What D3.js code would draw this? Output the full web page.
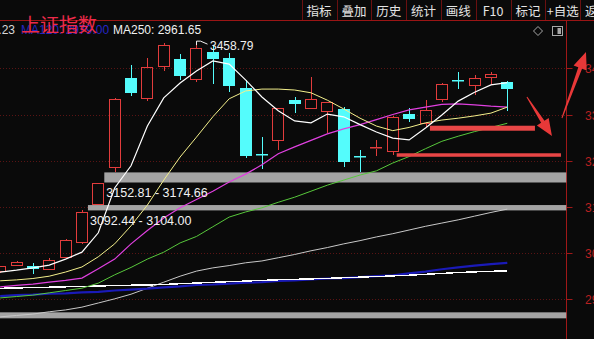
<!DOCTYPE html>
<html><head><meta charset="utf-8">
<script src="https://cdn.jsdelivr.net/npm/d3@7"></script>
<style>
html,body{margin:0;padding:0;background:#0a0a0a;overflow:hidden}
svg{display:block}
</style></head><body>
<svg id="c" width="594" height="339"></svg>
<script>
// ---------- data (index -1 is the partly visible first candle) ----------
const candleIndex = d3.range(-1, 31);
const opens  = [2961,2974,2973,2966,2992,3023,3106,3187,3380,3336,3405,3420,3377,3436,3422,3358,3214,3245,3331,3315,3308,3312,3211,3228,3221,3301,3281,3333,3375,3364,3381,3371];
const closes = [2971,2980,2965,2985,3028,3090,3151,3333,3347,3402,3450,3384,3443,3420,3362,3210,3212,3313,3322,3333,3326,3198,3207,3230,3295,3290,3309,3367,3373,3378,3388,3355];
const highs  = [2973,2982,2978,2990,3030,3092.44,3152.81,3336,3407,3422,3454,3432,3458.79,3448,3433,3375,3252,3314,3338,3382,3328,3317,3223,3245,3297,3313,3331,3368,3393,3386,3393,3373];
const lows   = [2958,2972,2955,2965,2990,3020,3104.00,3174.66,3340,3330,3395,3375,3371,3367,3349,3206,3183,3223,3303,3314,3259,3187,3176,3211,3212,3284,3272,3328,3355,3342,3364,3308];

const ma5   = [2959,2963,2968,2974,2987,3002,3044,3141,3189,3275,3336,3368,3394,3416,3409,3375,3338,3308,3286,3282,3301,3295,3278,3262,3249,3245,3271,3299,3329,3348,3364,3369];
const ma10  = [2940,2942,2945,2950,2959,2970,2992,3020,3059,3104,3158,3208,3251,3295,3334,3351,3355,3355,3353,3347,3331,3312,3292,3275,3265,3272,3282,3288,3292,3297,3303,3316];
const ma20  = [2927,2930,2933,2937,2941,2946,2966,2987,3020,3049,3076,3098,3116,3134,3154,3171,3191,3215,3230,3244,3258,3269,3278,3289,3300,3310,3316,3322,3323,3321,3318,3316];
const ma60  = [2903,2906,2909,2914,2919,2924,2935,2953,2969,2987,3002,3022,3036,3057,3078,3089,3098,3110,3121,3134,3147,3158,3169,3178,3195,3209,3226,3242,3253,3263,3272,3281];
const ma90  = [2862,2865,2868,2873,2877,2883,2892,2901,2911,2924,2937,2950,2961,2968,2973,2979,2983,2990,2997,3005,3012,3020,3027,3035,3042,3050,3058,3065,3072,3080,3088,3095.23];
const ma120 = [2907,2909,2910,2912,2913,2915,2916,2919,2921,2923,2926,2928,2931,2932,2934,2936,2937,2940,2941,2943,2945,2946,2948,2950,2952,2956,2960,2965,2969,2973,2976,2979.00];
const ma250 = [2923.8,2924.6,2925.3,2926.2,2927.0,2927.9,2928.8,2929.6,2930.5,2930.9,2932.2,2933.7,2935.2,2936.8,2938.1,2939.4,2940.9,2942.2,2943.3,2944.1,2945.4,2946.7,2948.0,2949.3,2950.6,2952.1,2954.1,2956.0,2958.0,2959.3,2960.6,2961.65];

const yTicks = [2900,3000,3100,3200,3300,3400];
const toolbarLabels = ["指标","叠加","历史","统计","画线","F10","标记","+自选","返回"];
const titleText = "上证指数";
// gap ranges: low, high, candle index after which the band starts
const gapLows  = [3152.81, 3092.44, 2858.8];
const gapHighs = [3174.66, 3104.00, 2871.8];
const gapFrom  = [5, 4, -3];
const gapLabeled = [true, true, false];
// hand-drawn annotations (index, price)
const markBarsFrom  = [25.27, 23.24];
const markBarsTo    = [31.69, 33.28];
const markBarsPrice = [3270.3, 3212.3];
const arrowsFrom = [[31.2, 3337.8], [33.34, 3292.4]];
const arrowsTo   = [[32.73, 3253.4], [34.81, 3435.2]];

// ---------- scales ----------
const W = 594, H = 339, axisX = 566.5, topY = 20.5;
const x = d3.scaleLinear().domain([-1, 30]).range([0.14, 507.3]);
const y = d3.scaleLinear().domain([2900, 3400]).range([299.3, 68.3]);
const step = x(1) - x(0);
const bodyW = 12;

const svg = d3.select("#c");
svg.append("rect").attr("width", W).attr("height", H).attr("fill", "#0a0a0a");

svg.append("defs").append("clipPath").attr("id", "plot")
  .append("rect").attr("x", 0).attr("y", topY + 0.5).attr("width", axisX).attr("height", H - topY);

// toolbar
const tb = d3.scaleBand().domain(toolbarLabels).range([301.7, 301.7 + 34.8 * toolbarLabels.length]);
const tg = svg.append("g");
toolbarLabels.forEach(l => {
  tg.append("line").attr("x1", Math.round(tb(l)) + 0.5).attr("x2", Math.round(tb(l)) + 0.5)
    .attr("y1", 0).attr("y2", topY).attr("stroke", "#6a1010").attr("stroke-width", 1);
  tg.append("text").attr("x", tb(l) + tb.bandwidth() / 2).attr("y", 15.5)
    .attr("text-anchor", "middle").attr("fill", "#e4e4e4")
    .attr("font-family", "'Noto Sans CJK SC', sans-serif").attr("font-size", 12.5).text(l);
});
svg.append("line").attr("x1", 0).attr("x2", W).attr("y1", topY).attr("y2", topY)
  .attr("stroke", "#9a1515").attr("stroke-width", 1);

// right axis
svg.append("line").attr("x1", axisX).attr("x2", axisX).attr("y1", topY).attr("y2", H)
  .attr("stroke", "#a01818").attr("stroke-width", 1);
const ag = svg.append("g");
yTicks.forEach(v => {
  const yy = Math.round(y(v)) + 0.5;
  ag.append("line").attr("x1", 0).attr("x2", axisX).attr("y1", yy).attr("y2", yy)
    .attr("stroke", "#5a1414").attr("stroke-dasharray", "1,2");
  ag.append("line").attr("x1", axisX).attr("x2", axisX + 6).attr("y1", yy).attr("y2", yy)
    .attr("stroke", "#a01818");
  ag.append("text").attr("x", 585).attr("y", yy + 4.5).attr("fill", "#b82020")
    .attr("font-family", "'Liberation Sans', Arial, sans-serif").attr("font-size", 12)
    .text(v.toFixed(2));
});

// icons
svg.append("path").attr("d", "M538,26.5L542.5,31L538,35.5L533.5,31Z")
  .attr("fill", "none").attr("stroke", "#a8a8a8");
svg.append("rect").attr("x", 552.5).attr("y", 26.5).attr("width", 10).attr("height", 9)
  .attr("fill", "none").attr("stroke", "#a8a8a8");
svg.append("rect").attr("x", 557.5).attr("y", 28).attr("width", 3.5).attr("height", 6).attr("fill", "#a8a8a8");

const plot = svg.append("g").attr("clip-path", "url(#plot)");

// gap bands
const bandG = plot.append("g");
gapLows.forEach((lo, k) => {
  const hi = gapHighs[k];
  const x0 = x(gapFrom[k]) + bodyW / 2;
  bandG.append("rect").attr("x", x0).attr("y", y(hi)).attr("width", axisX - x0)
    .attr("height", y(lo) - y(hi)).attr("fill", "#a4a4a4");
  if (gapLabeled[k]) {
    svg.append("text").attr("x", x0 + 2).attr("y", y(lo) + 14.5).attr("fill", "#f2f2f2")
      .attr("font-family", "'Liberation Sans', Arial, sans-serif").attr("font-size", 12.5)
      .text(`${lo.toFixed(2)} - ${hi.toFixed(2)}`);
  }
});

// candles
const red = "#e23c3c", cyan = "#54fcfc";
const cg = plot.append("g");
candleIndex.forEach((i, k) => {
  const o = opens[k], c = closes[k], h = highs[k], l = lows[k];
  const cx = Math.round(x(i));
  const left = cx - bodyW / 2;
  const yo = Math.round(y(o)), yc = Math.round(y(c)), yh = Math.round(y(h)), yl = Math.round(y(l));
  if (c >= o) {
    const hgt = Math.max(1, yo - yc);
    if (hgt <= 2) {
      cg.append("rect").attr("x", left).attr("y", yc).attr("width", bodyW).attr("height", 1.5).attr("fill", red);
    } else {
      cg.append("rect").attr("x", left + 0.5).attr("y", yc + 0.5).attr("width", bodyW - 1)
        .attr("height", hgt).attr("fill", "none").attr("stroke", red).attr("stroke-width", 1);
    }
    cg.append("line").attr("x1", cx + 0.5).attr("x2", cx + 0.5).attr("y1", yh).attr("y2", yc)
      .attr("stroke", red);
    cg.append("line").attr("x1", cx + 0.5).attr("x2", cx + 0.5).attr("y1", yo + 1).attr("y2", yl)
      .attr("stroke", red);
  } else {
    cg.append("line").attr("x1", cx + 0.5).attr("x2", cx + 0.5).attr("y1", yh).attr("y2", yl)
      .attr("stroke", cyan);
    cg.append("rect").attr("x", left).attr("y", yo).attr("width", bodyW)
      .attr("height", Math.max(1.5, yc - yo)).attr("fill", cyan);
  }
});

// moving averages
const lineGen = d3.line().x((d, k) => x(candleIndex[k])).y(d => y(d));
const maSeries = [
  {v: ma90,  color: "#c8c8c8", w: 1},
  {v: ma120, color: "#1a1ab8", w: 2.2},
  {v: ma250, color: "#ffffff", w: 1.4, crisp: true},
  {v: ma60,  color: "#58c83c", w: 1},
  {v: ma20,  color: "#e040e0", w: 1.2},
  {v: ma10,  color: "#f4f08c", w: 1},
  {v: ma5,   color: "#ffffff", w: 1.2}
];
const lg = plot.append("g");
maSeries.forEach(s => {
  lg.append("path").attr("d", lineGen(s.v)).attr("fill", "none")
    .attr("stroke", s.color).attr("stroke-width", s.w)
    .attr("shape-rendering", s.crisp ? "crispEdges" : "auto");
});

// max marker
const maxK = highs.indexOf(d3.max(highs));
const mx = Math.round(x(candleIndex[maxK])) + 0.5, my = y(highs[maxK]);
svg.append("path").attr("d", `M${mx},${my + 4}L${mx},${my}L${mx + 4},${my}L${mx + 11},${my + 3}`)
  .attr("fill", "none").attr("stroke", "#f0f0f0");
svg.append("text").attr("x", mx + 13.5).attr("y", my + 9).attr("fill", "#f0f0f0")
  .attr("font-family", "'Liberation Sans', Arial, sans-serif").attr("font-size", 12)
  .text(highs[maxK].toFixed(2));

// legend row
svg.append("text").attr("x", 15).attr("y", 34).attr("text-anchor", "end").attr("fill", "#d8d8d8")
  .attr("font-family", "'Liberation Sans', Arial, sans-serif").attr("font-size", 12)
  .text("MA90: " + ma90[ma90.length - 1].toFixed(2));
svg.append("text").attr("x", 21).attr("y", 34).attr("fill", "#2626c4")
  .attr("font-family", "'Liberation Sans', Arial, sans-serif").attr("font-size", 12)
  .text("MA120: " + ma120[ma120.length - 1].toFixed(2));
svg.append("text").attr("x", 113).attr("y", 34).attr("fill", "#f0f0f0")
  .attr("font-family", "'Liberation Sans', Arial, sans-serif").attr("font-size", 12)
  .text("MA250: " + ma250[ma250.length - 1].toFixed(2));
svg.append("text").attr("x", 21).attr("y", 32).attr("fill", "#ee2a4a")
  .attr("font-family", "'Noto Sans CJK SC', sans-serif").attr("font-size", 19)
  .text(titleText);

// hand-drawn red marks
const ann = svg.append("g");
markBarsPrice.forEach((p, k) => {
  const th = k === 0 ? 5 : 3.5;
  ann.append("rect").attr("x", x(markBarsFrom[k])).attr("y", y(p) - th / 2)
    .attr("width", x(markBarsTo[k]) - x(markBarsFrom[k])).attr("height", th).attr("fill", "#e84646");
});
function arrow(x1, y1, x2, y2, headLen, headW, tailW, shaftW) {
  const dx = x2 - x1, dy = y2 - y1, L = Math.hypot(dx, dy);
  const ux = dx / L, uy = dy / L, px = -uy, py = ux;
  const bx = x2 - ux * headLen, by = y2 - uy * headLen;
  const pts = [
    [x1 + px * tailW / 2, y1 + py * tailW / 2],
    [bx + px * shaftW / 2, by + py * shaftW / 2],
    [bx + px * headW / 2, by + py * headW / 2],
    [x2, y2],
    [bx - px * headW / 2, by - py * headW / 2],
    [bx - px * shaftW / 2, by - py * shaftW / 2],
    [x1 - px * tailW / 2, y1 - py * tailW / 2]
  ];
  return "M" + pts.map(p => p.join(",")).join("L") + "Z";
}
arrowsFrom.forEach((f, k) => {
  const t = arrowsTo[k];
  ann.append("path").attr("d", arrow(x(f[0]), y(f[1]), x(t[0]), y(t[1]), 17, 14, 1, 4))
    .attr("fill", "#e83838");
});
</script>
</body></html>
